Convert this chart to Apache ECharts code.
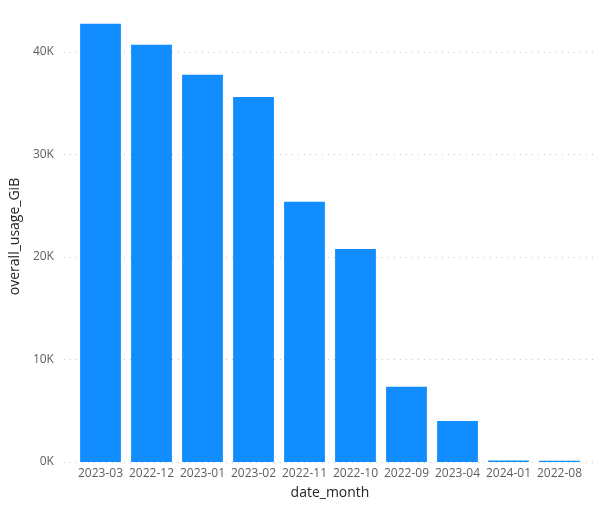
<!DOCTYPE html>
<html>
<head>
<meta charset="utf-8">
<script src="https://cdn.jsdelivr.net/npm/echarts@6/dist/echarts.min.js"></script>
<style>
html,body{margin:0;padding:0;background:#fff;}
#chart{width:595px;height:510px;}
</style>
</head>
<body>
<div id="chart"></div>
<script>
const categories = ['2023-03','2022-12','2023-01','2023-02','2022-11','2022-10','2022-09','2023-04','2024-01','2022-08'];
const usageGiB = [42760, 40710, 37790, 35610, 25380, 20770, 7340, 4000, 150, 120];
const yTicks = [0, 10000, 20000, 30000, 40000];

const FONT = '"Segoe UI", "Open Sans", "Noto Sans", sans-serif';
const yMax = 44000;

const chart = echarts.init(document.getElementById('chart'), null, {renderer: 'canvas'});
chart.setOption({
  animation: false,
  textStyle: {fontFamily: FONT},
  grid: [
    {left: 60, right: 0, top: 11, bottom: 48},
    {left: 75, right: 10, top: 11, bottom: 48}
  ],
  xAxis: [
    {gridIndex: 0, type: 'value', show: false, min: 0, max: 1},
    {
      gridIndex: 1,
      type: 'category',
      data: categories,
      axisLine: {show: false},
      axisTick: {show: false},
      axisLabel: {color: '#605E5C', fontSize: 12, margin: 6, fontFamily: FONT, interval: 0},
      name: 'date_month',
      nameLocation: 'middle',
      nameGap: 24,
      nameTextStyle: {color: '#252423', fontSize: 14, fontFamily: FONT}
    }
  ],
  yAxis: [
    {
      gridIndex: 0,
      type: 'value',
      min: 0,
      max: yMax,
      interval: 10000,
      axisLine: {show: false},
      axisTick: {show: false},
      axisLabel: {
        color: '#605E5C', fontSize: 12, margin: 10, fontFamily: FONT,
        showMaxLabel: false,
        formatter: function (v) { return yTicks.indexOf(v) >= 0 ? (v / 1000) + 'K' : ''; }
      },
      splitLine: {show: true, showMaxLine: false, lineStyle: {color: '#C8C6C4', type: [1, 5], width: 1}},
      name: 'overall_usage_GiB',
      nameLocation: 'middle',
      nameGap: 38,
      nameTextStyle: {color: '#252423', fontSize: 14, fontFamily: FONT}
    },
    {gridIndex: 1, type: 'value', min: 0, max: yMax, show: false}
  ],
  series: [{
    type: 'bar',
    xAxisIndex: 1,
    yAxisIndex: 1,
    data: usageGiB,
    barCategoryGap: '20%',
    itemStyle: {color: '#118DFF'}
  }]
});
</script>
</body>
</html>
